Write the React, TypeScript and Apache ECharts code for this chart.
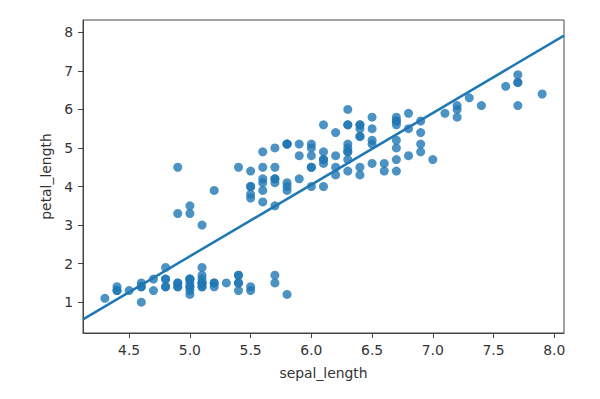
import React, { useEffect, useRef } from "react";
import * as echarts from "echarts";

const sepalLength: number[] = [
  5.1, 4.9, 4.7, 4.6, 5.0, 5.4, 4.6, 5.0, 4.4, 4.9, 5.4, 4.8, 4.8, 4.3, 5.8, 5.7, 5.4, 5.1, 5.7, 5.1,
  5.4, 5.1, 4.6, 5.1, 4.8, 5.0, 5.0, 5.2, 5.2, 4.7, 4.8, 5.4, 5.2, 5.5, 4.9, 5.0, 5.5, 4.9, 4.4, 5.1,
  5.0, 4.5, 4.4, 5.0, 5.1, 4.8, 5.1, 4.6, 5.3, 5.0,
  7.0, 6.4, 6.9, 5.5, 6.5, 5.7, 6.3, 4.9, 6.6, 5.2, 5.0, 5.9, 6.0, 6.1, 5.6, 6.7, 5.6, 5.8, 6.2, 5.6,
  5.9, 6.1, 6.3, 6.1, 6.4, 6.6, 6.8, 6.7, 6.0, 5.7, 5.5, 5.5, 5.8, 6.0, 5.4, 6.0, 6.7, 6.3, 5.6, 5.5,
  5.5, 6.1, 5.8, 5.0, 5.6, 5.7, 5.7, 6.2, 5.1, 5.7,
  6.3, 5.8, 7.1, 6.3, 6.5, 7.6, 4.9, 7.3, 6.7, 7.2, 6.5, 6.4, 6.8, 5.7, 5.8, 6.4, 6.5, 7.7, 7.7, 6.0,
  6.9, 5.6, 7.7, 6.3, 6.7, 7.2, 6.2, 6.1, 6.4, 7.2, 7.4, 7.9, 6.4, 6.3, 6.1, 7.7, 6.3, 6.4, 6.0, 6.9,
  6.7, 6.9, 5.8, 6.8, 6.7, 6.7, 6.3, 6.5, 6.2, 5.9,
];

const petalLength: number[] = [
  1.4, 1.4, 1.3, 1.5, 1.4, 1.7, 1.4, 1.5, 1.4, 1.5, 1.5, 1.6, 1.4, 1.1, 1.2, 1.5, 1.3, 1.4, 1.7, 1.5,
  1.7, 1.5, 1.0, 1.7, 1.9, 1.6, 1.6, 1.5, 1.4, 1.6, 1.6, 1.5, 1.5, 1.4, 1.5, 1.2, 1.3, 1.4, 1.3, 1.5,
  1.3, 1.3, 1.3, 1.6, 1.9, 1.4, 1.6, 1.4, 1.5, 1.4,
  4.7, 4.5, 4.9, 4.0, 4.6, 4.5, 4.7, 3.3, 4.6, 3.9, 3.5, 4.2, 4.0, 4.7, 3.6, 4.4, 4.5, 4.1, 4.5, 3.9,
  4.8, 4.0, 4.9, 4.7, 4.3, 4.4, 4.8, 5.0, 4.5, 3.5, 3.8, 3.7, 3.9, 5.1, 4.5, 4.5, 4.7, 4.4, 4.1, 4.0,
  4.4, 4.6, 4.0, 3.3, 4.2, 4.2, 4.2, 4.3, 3.0, 4.1,
  6.0, 5.1, 5.9, 5.6, 5.8, 6.6, 4.5, 6.3, 5.8, 6.1, 5.1, 5.3, 5.5, 5.0, 5.1, 5.3, 5.5, 6.7, 6.9, 5.0,
  5.7, 4.9, 6.7, 4.9, 5.7, 6.0, 4.8, 4.9, 5.6, 5.8, 6.1, 6.4, 5.6, 5.1, 5.6, 6.1, 5.6, 5.5, 4.8, 5.4,
  5.6, 5.1, 5.1, 5.9, 5.7, 5.2, 5.0, 5.2, 5.4, 5.1,
];

const xTicks: number[] = [4.5, 5.0, 5.5, 6.0, 6.5, 7.0, 7.5, 8.0];
const yTicks: number[] = [1, 2, 3, 4, 5, 6, 7, 8];
const yRange: number[] = [0.2, 8.32];

export default function App() {
  const ref = useRef<HTMLDivElement>(null);
  useEffect(() => {
    if (!ref.current) return;
    const chart = echarts.init(ref.current, undefined, { renderer: "svg" });

    const n = sepalLength.length;
    const mx = sepalLength.reduce((a, b) => a + b, 0) / n;
    const my = petalLength.reduce((a, b) => a + b, 0) / n;
    let sxy = 0;
    let sxx = 0;
    for (let i = 0; i < n; i++) {
      sxy += (sepalLength[i] - mx) * (petalLength[i] - my);
      sxx += (sepalLength[i] - mx) * (sepalLength[i] - mx);
    }
    const slope = sxy / sxx;
    const intercept = my - slope * mx;
    const dxMin = Math.min(...sepalLength);
    const dxMax = Math.max(...sepalLength);
    const pad = (dxMax - dxMin) * 0.05;
    const xMin = dxMin - pad;
    const xMax = dxMax + pad;

    const points = sepalLength.map((x, i) => [x, petalLength[i]]);
    const fit = [
      [xMin, slope * xMin + intercept],
      [xMax, slope * xMax + intercept],
    ];

    const font = "DejaVu Sans";
    const textColor = "#333";
    const axisColor = "#444";

    chart.setOption({
      animation: false,
      grid: {
        left: 83,
        right: 36,
        top: 20,
        bottom: 66,
        show: true,
        borderColor: axisColor,
        borderWidth: 1,
        backgroundColor: "transparent",
      },
      xAxis: {
        type: "value",
        min: xMin,
        max: xMax,
        name: "sepal_length",
        nameLocation: "middle",
        nameGap: 33,
        nameTextStyle: { fontFamily: font, fontSize: 13.9, color: textColor },
        axisLine: { show: true, lineStyle: { color: axisColor, width: 1 } },
        axisTick: {
          show: true,
          length: 5,
          customValues: xTicks,
          lineStyle: { color: axisColor, width: 1 },
        },
        axisLabel: {
          customValues: xTicks,
          formatter: (v: number) => v.toFixed(1),
          fontFamily: font,
          fontSize: 13.9,
          color: textColor,
          margin: 10,
        },
        splitLine: { show: false },
      },
      yAxis: {
        type: "value",
        min: yRange[0],
        max: yRange[1],
        name: "petal_length",
        nameLocation: "middle",
        nameRotate: 90,
        nameGap: 21,
        nameTextStyle: { fontFamily: font, fontSize: 13.9, color: textColor },
        axisLine: { show: true, lineStyle: { color: axisColor, width: 1 } },
        axisTick: {
          show: true,
          length: 5,
          customValues: yTicks,
          lineStyle: { color: axisColor, width: 1 },
        },
        axisLabel: {
          customValues: yTicks,
          formatter: (v: number) => String(v),
          fontFamily: font,
          fontSize: 13.9,
          color: textColor,
          margin: 10,
        },
        splitLine: { show: false },
      },
      series: [
        {
          type: "scatter",
          data: points,
          symbolSize: 9,
          itemStyle: { color: "#1f77b4", opacity: 0.8 },
          z: 2,
        },
        {
          type: "line",
          data: fit,
          showSymbol: false,
          symbol: "none",
          lineStyle: { color: "#1f77b4", width: 2.5 },
          z: 3,
        },
      ],
    });
    return () => chart.dispose();
  }, []);

  return <div ref={ref} style={{ width: 600, height: 399, position: "absolute", left: 0, top: 0 }} />;
}
